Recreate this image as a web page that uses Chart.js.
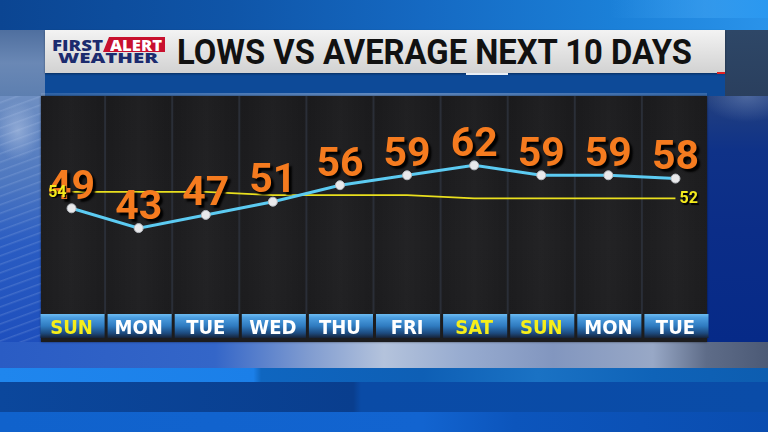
<!DOCTYPE html>
<html>
<head>
<meta charset="utf-8">
<script src="https://cdn.jsdelivr.net/npm/chart.js@4.4.1/dist/chart.umd.min.js"></script>
<style>
html,body{margin:0;padding:0;width:768px;height:432px;overflow:hidden;background:#0c4595;}
#stage{position:relative;width:768px;height:432px;overflow:hidden;font-family:Roboto,'Liberation Sans',sans-serif;}
.bg{position:absolute;}
#top{left:0;top:0;width:768px;height:30px;background:linear-gradient(90deg,#0b4592 0%,#0f55a8 30%,#1569c2 55%,#1b80d8 80%,#2a93ea 100%);}
#top2{left:610px;top:0;width:158px;height:18px;background:linear-gradient(90deg,rgba(60,160,240,0) 0%,rgba(60,160,240,.6) 60%,#2a98f0 100%);}
#mid{left:0;top:30px;width:768px;height:66px;background:#0d4a98;}
#midL{left:0;top:30px;width:45px;height:66px;background:linear-gradient(180deg,#4f6f9f 0%,#6a88b5 50%,#5d7fb0 100%);}
#midR{left:725px;top:30px;width:43px;height:66px;background:linear-gradient(180deg,#2e4767 0%,#2a3f5e 100%);}
#sideL{left:0;top:96px;width:41px;height:246px;background:
 radial-gradient(ellipse 30px 40px at 18px 35px,rgba(200,214,238,.45),rgba(200,214,238,0) 75%),
 repeating-linear-gradient(160deg,rgba(255,255,255,0) 0px,rgba(255,255,255,0) 5px,rgba(190,210,245,.18) 6px,rgba(255,255,255,0) 8px),
 linear-gradient(180deg,#6f8fc2 0%,#4d77c0 35%,#2a5cc2 60%,#1e4fbd 100%);}
#sideR{left:707px;top:96px;width:61px;height:246px;background:
 radial-gradient(ellipse 60px 35px at 40px 0px,rgba(110,135,185,.55),rgba(110,135,185,0) 75%),
 linear-gradient(180deg,#23407e 0%,#0f3288 22%,#0b2d88 55%,#062a88 100%);}
#band{left:0;top:342px;width:768px;height:26px;background:
 linear-gradient(90deg,#2a5cc4 0%,#3466c8 28%,#7f9bd0 40%,#b4c3dc 50%,#98acd0 60%,#8296bf 72%,#98a8c6 85%,#5e6c88 92%,#4c5a76 100%);}
#s1{left:0;top:368px;width:768px;height:14px;background:linear-gradient(90deg,#1f86ee 0%,#1b7fe8 33%,#0f66c0 34%,#0e5fb5 55%,#1a72c4 70%,#0f63b8 85%,#0d5db0 100%);}
#s2{left:0;top:382px;width:768px;height:30px;background:linear-gradient(90deg,#0b479c 0%,#093e8e 46%,#0a4ba6 47%,#0a4ca8 100%);}
#s3{left:0;top:412px;width:768px;height:20px;background:linear-gradient(90deg,#1062cc 0%,#1264d0 55%,#0c55bc 67%,#0a4db0 100%);}
#banner{position:absolute;left:45px;top:30px;width:680px;height:43px;
 background:linear-gradient(180deg,#f3f3f3 0%,#e4e4e4 45%,#d2d2d2 100%);box-shadow:0 1px 2px rgba(0,0,0,.4);}
#bannerStrip{position:absolute;left:466px;top:73px;width:42px;height:2px;background:#e8eef5;}
#bannerRed{position:absolute;left:717px;top:72px;width:8px;height:2px;background:#e02020;}
#logo{position:absolute;left:51px;top:37px;width:115px;height:27px;}
#first{position:absolute;left:1px;top:1px;height:14px;font:900 16px 'Open Sans',Roboto,sans-serif;color:#1c2b6e;line-height:14px;white-space:nowrap;transform-origin:0 0;}
#alertBox{position:absolute;left:52px;top:0px;width:62px;height:15px;background:#c8102e;clip-path:polygon(6px 0,100% 0,100% 100%,0 100%);}
#alert{position:absolute;left:59px;top:1px;height:14px;font:900 16px 'Open Sans',Roboto,sans-serif;color:#fff;line-height:14px;white-space:nowrap;transform-origin:0 0;}
#weather{position:absolute;left:7px;top:15px;height:12px;font:900 14px 'Open Sans',Roboto,sans-serif;color:#1c2b6e;line-height:12px;white-space:nowrap;transform-origin:0 0;}
#title{position:absolute;left:177px;top:35px;font:700 35px Roboto,sans-serif;line-height:35px;color:#111;white-space:nowrap;transform-origin:0 0;}
#panel{position:absolute;left:41px;top:96px;width:666px;height:246px;background:linear-gradient(180deg,#1b1b1d 0%,#1e1e20 60%,#1c1c1e 100%);box-shadow:0 0 2px rgba(0,0,0,.6);}
#panelTop{position:absolute;left:41px;top:93px;width:666px;height:3px;background:linear-gradient(90deg,rgba(180,200,230,.2),rgba(200,215,240,.45) 50%,rgba(180,200,230,.25));}
canvas{position:absolute;left:0;top:0;}
</style>
</head>
<body>
<div id="stage">
 <div class="bg" id="top"></div><div class="bg" id="top2"></div>
 <div class="bg" id="mid"></div><div class="bg" id="midL"></div><div class="bg" id="midR"></div>
 <div class="bg" id="sideL"></div><div class="bg" id="sideR"></div>
 <div class="bg" id="band"></div><div class="bg" id="s1"></div><div class="bg" id="s2"></div><div class="bg" id="s3"></div>
 <div id="banner"></div><div id="bannerStrip"></div><div id="bannerRed"></div>
 <div id="logo">
  <div id="first">FIRST</div>
  <div id="alertBox"></div>
  <div id="alert">ALERT</div>
  <div id="weather">WEATHER</div>
 </div>
 <div id="title">LOWS VS AVERAGE NEXT 10 DAYS</div>
 <div id="panelTop"></div>
 <div id="panel"></div>
 <canvas id="c" width="768" height="432"></canvas>
</div>
<script>
// ---- data ----
const days = ['SUN','MON','TUE','WED','THU','FRI','SAT','SUN','MON','TUE'];
const weekendDays = ['SAT','SUN'];
const lows = [49,43,47,51,56,59,62,59,59,58];
const averageLows = [54,54,54,53,53,53,52,52,52,52];

// fit text widths (condensed broadcast fonts)
function fitWidth(id, w){
  const el = document.getElementById(id);
  el.style.display='inline-block';
  const cur = el.getBoundingClientRect().width;
  el.style.transform = 'scaleX(' + (w/cur) + ')';
}
fitWidth('title', 515);
fitWidth('first', 51);
fitWidth('alert', 52);
fitWidth('weather', 100);

const condensed = "'Liberation Sans Narrow','DejaVu Sans Condensed',Roboto,sans-serif";

const panelPlugin = {
  id: 'panelCols',
  beforeDraw(chart){
    const {ctx, chartArea: a, scales: {x}} = chart;
    const n = x.ticks.length;
    const step = (x.getPixelForTick(n-1) - x.getPixelForTick(0)) / (n-1);
    ctx.save();
    for (let i = 0; i < n; i++){
      const cx = x.getPixelForTick(i);
      const l = cx - step/2;
      const g = ctx.createLinearGradient(l, 0, l + step, 0);
      g.addColorStop(0, 'rgba(255,255,255,0.00)');
      g.addColorStop(0.5, 'rgba(255,255,255,0.025)');
      g.addColorStop(1, 'rgba(255,255,255,0.00)');
      ctx.fillStyle = g;
      ctx.fillRect(l, a.top, step, a.bottom - a.top);
      const cg = ctx.createLinearGradient(0, x.top, 0, x.top + 24);
      cg.addColorStop(0, '#6cbcf2');
      cg.addColorStop(0.15, '#4c9ee0');
      cg.addColorStop(0.5, '#2f7bc0');
      cg.addColorStop(0.8, '#1d4a7e');
      cg.addColorStop(1, '#172236');
      ctx.fillStyle = cg;
      ctx.fillRect(l + 2.5, x.top, step - 3, 24);
      if (i > 0){
        ctx.fillStyle = '#2a2e37';
        ctx.fillRect(l - 1, a.top, 2, a.bottom - a.top);
      }
    }
    ctx.restore();
  },
  afterDatasetsDraw(chart){
    const {ctx} = chart;
    const lowMeta = chart.getDatasetMeta(0);
    const avgMeta = chart.getDatasetMeta(1);
    ctx.save();
    ctx.font = 'bold 41px Roboto, sans-serif';
    ctx.textAlign = 'center';
    ctx.textBaseline = 'alphabetic';
    ctx.shadowColor = 'rgba(0,0,0,0.95)';
    ctx.shadowOffsetX = 3; ctx.shadowOffsetY = 3; ctx.shadowBlur = 2;
    ctx.fillStyle = '#f57b1f';
    lowMeta.data.forEach((pt, i) => ctx.fillText(String(lows[i]), pt.x, pt.y - 9.5));
    ctx.font = 'bold 16px Roboto, sans-serif';
    ctx.textBaseline = 'middle';
    ctx.shadowOffsetX = 1.5; ctx.shadowOffsetY = 1.5; ctx.shadowBlur = 1;
    ctx.fillStyle = '#f4ea1c';
    const f = avgMeta.data[0], last = avgMeta.data[avgMeta.data.length - 1];
    ctx.textAlign = 'right';
    ctx.fillText(String(averageLows[0]), f.x - 5, f.y + 1);
    ctx.textAlign = 'left';
    ctx.fillText(String(averageLows[averageLows.length - 1]), last.x + 4, last.y + 1);
    ctx.restore();
  }
};

new Chart(document.getElementById('c'), {
  type: 'line',
  data: {
    labels: days,
    datasets: [
      { label: 'Lows', data: lows, borderColor: '#5ccbf2', borderWidth: 3,
        pointRadius: 4.5, pointBackgroundColor: '#e9e9eb', pointBorderColor: '#b8bcc2',
        pointBorderWidth: 1, tension: 0, clip: false },
      { label: 'Average', data: averageLows, borderColor: '#e9df1e', borderWidth: 1.8,
        pointRadius: 0, tension: 0, clip: false }
    ]
  },
  options: {
    responsive: false,
    animation: false,
    events: [],
    devicePixelRatio: 1,
    layout: { padding: { left: 38, right: 59, top: 96, bottom: 90 } },
    plugins: { legend: { display: false }, tooltip: { enabled: false } },
    scales: {
      x: {
        offset: true,
        grid: { display: false, drawTicks: false },
        border: { display: false },
        ticks: {
          padding: 3,
          font: { family: condensed, size: 20, weight: 'bold' },
          color: (c) => weekendDays.includes(days[c.index]) ? '#f6ee1a' : '#ffffff',
          maxRotation: 0, autoSkip: false
        },
        afterFit(scale){ scale.height = 28; }
      },
      y: { display: false, min: 17, max: 83 }
    }
  },
  plugins: [panelPlugin]
});
</script>
</body>
</html>
